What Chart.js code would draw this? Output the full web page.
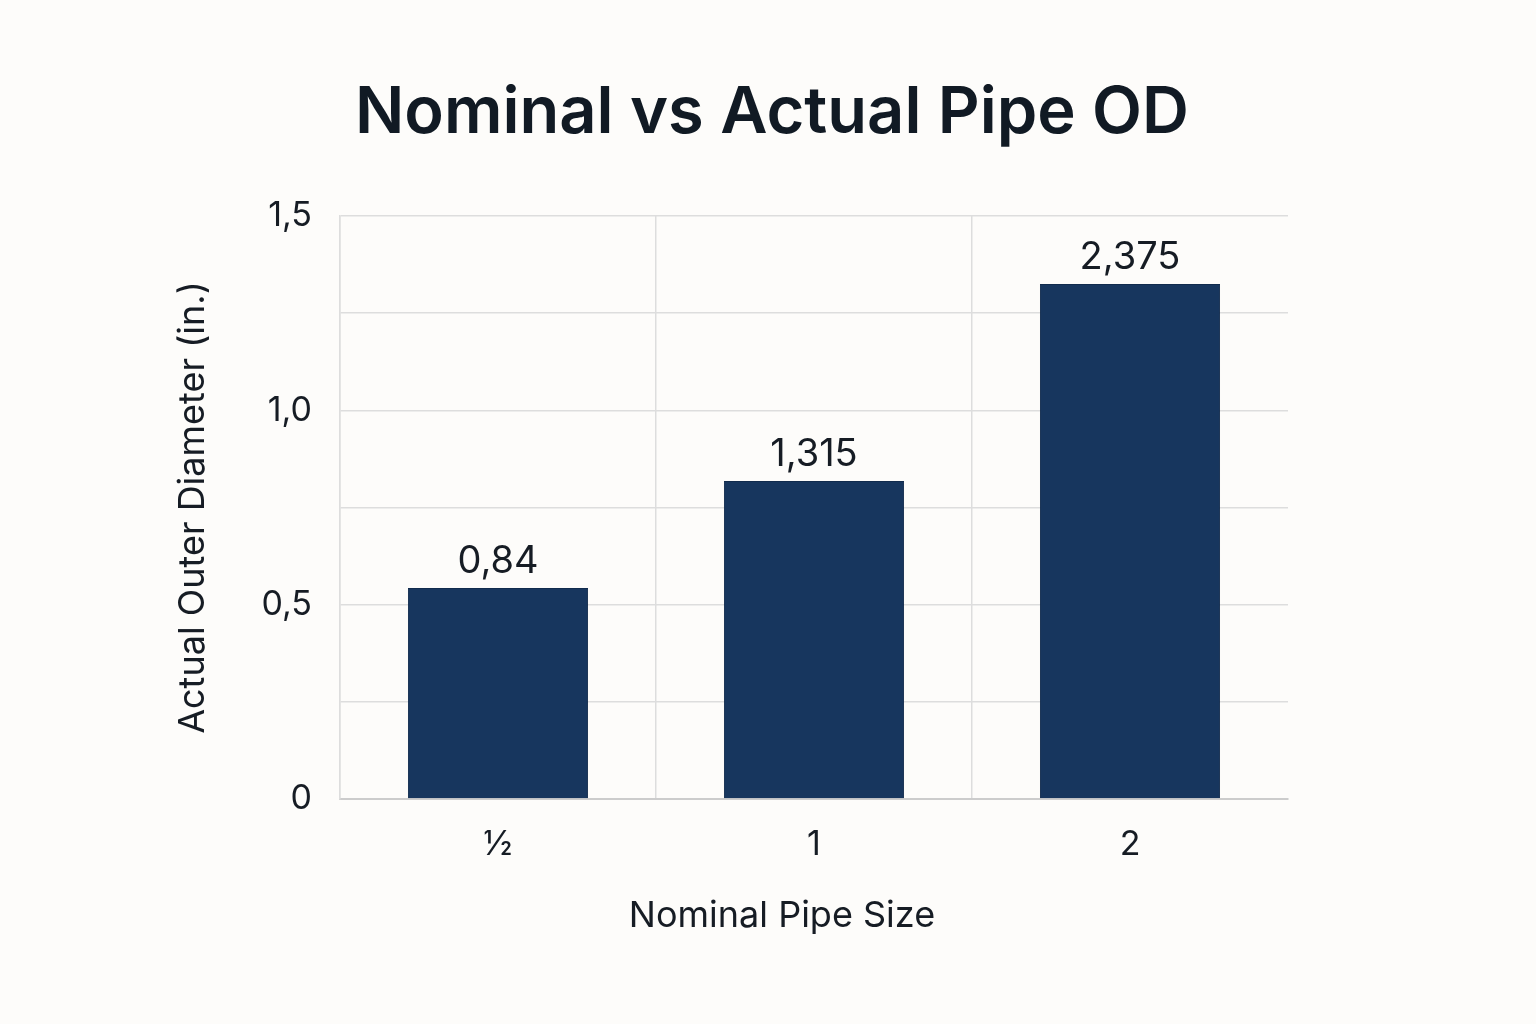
<!DOCTYPE html>
<html>
<head>
<meta charset="utf-8">
<title>Nominal vs Actual Pipe OD</title>
<script src="https://cdn.jsdelivr.net/npm/chart.js@4.4.1/dist/chart.umd.min.js"></script>
<style>
    html, body { margin: 0; padding: 0; background: #fdfcfa; }
    #wrap { width: 1536px; height: 1024px; }
</style>
</head>
<body>
<div id="wrap"><canvas id="odChart"></canvas></div>
<script>
// Nominal sizes along the x axis
const sizes = ['\u00BD', '1', '2'];
// Bar heights as drawn against the y axis (in.)
const barHeights = [0.543, 0.818, 1.325];
// Value labels printed above each bar
const barLabels = ['0,84', '1,315', '2,375'];
// Y axis range and labelled ticks
const yMax = 1.5;
const yStep = 0.25;
const yTickLabels = { '0': '0', '0.5': '0,5', '1': '1,0', '1.5': '1,5' };

const chartTitle = 'Nominal vs Actual Pipe OD';
const xTitle = 'Nominal Pipe Size';
const yTitle = 'Actual Outer Diameter (in.)';

const FONT = 'Inter, "Noto Sans", sans-serif';
const INK = '#161c24';
const GRID = '#dddddd';

// value text over each bar
const barValueLabels = {
    id: 'barValueLabels',
    afterDatasetsDraw(chart) {
        const ctx = chart.ctx;
        const meta = chart.getDatasetMeta(0);
        ctx.save();
        ctx.font = '400 38px ' + FONT;
        ctx.fillStyle = INK;
        ctx.textAlign = 'center';
        ctx.textBaseline = 'alphabetic';
        meta.data.forEach((bar, i) => {
            ctx.fillText(barLabels[i], bar.x, bar.y - 15);
        });
        ctx.restore();
    }
};

// page title and x title sit on the page centre, not the plot centre
const pageTexts = {
    id: 'pageTexts',
    afterDraw(chart) {
        const ctx = chart.ctx;
        ctx.save();
        ctx.textAlign = 'center';
        ctx.textBaseline = 'alphabetic';
        ctx.fillStyle = '#111a24';
        ctx.font = '600 65px ' + FONT;
        ctx.fillText(chartTitle, 772, 133);
        ctx.fillStyle = INK;
        ctx.font = '400 36px ' + FONT;
        ctx.fillText(xTitle, 782, 927);
        ctx.restore();
    }
};

const ctx = document.getElementById('odChart');

new Chart(ctx, {
    type: 'bar',
    data: {
        labels: sizes,
        datasets: [{
            data: barHeights,
            backgroundColor: '#17365e',
            borderColor: '#112b4d',
            borderWidth: 1,
            categoryPercentage: 1.0,
            barPercentage: 0.57
        }]
    },
    plugins: [barValueLabels, pageTexts],
    options: {
        responsive: true,
        maintainAspectRatio: false,
        animation: false,
        layout: {
            padding: { left: 160, right: 248, top: 216, bottom: 75 }
        },
        plugins: {
            legend: { display: false },
            tooltip: { enabled: false },
            title: { display: false }
        },
        scales: {
            x: {
                afterFit(scale) { scale.height = 150; },
                grid: {
                    offset: true,
                    drawTicks: false,
                    lineWidth: 1.5,
                    color: (c) => c.type === 'tick' ? GRID : 'rgba(0,0,0,0)'
                },
                border: { display: true, color: '#cccccc', width: 2 },
                ticks: {
                    color: INK,
                    padding: 25,
                    font: { family: FONT, size: 34 }
                }
            },
            y: {
                min: 0,
                max: yMax,
                afterFit(scale) { scale.width = 180; },
                grid: {
                    drawTicks: false,
                    lineWidth: 1.5,
                    color: GRID
                },
                border: { display: true, color: GRID, width: 1.5 },
                ticks: {
                    stepSize: yStep,
                    color: INK,
                    padding: 28,
                    font: { family: FONT, size: 34 },
                    callback: function(value) {
                        const key = String(Math.round(value * 100) / 100);
                        return yTickLabels[key] !== undefined ? yTickLabels[key] : '';
                    }
                },
                title: {
                    display: true,
                    text: yTitle,
                    color: INK,
                    font: { family: FONT, size: 36 },
                    padding: { top: 12, bottom: 0 }
                }
            }
        }
    }
});
</script>
</body>
</html>
